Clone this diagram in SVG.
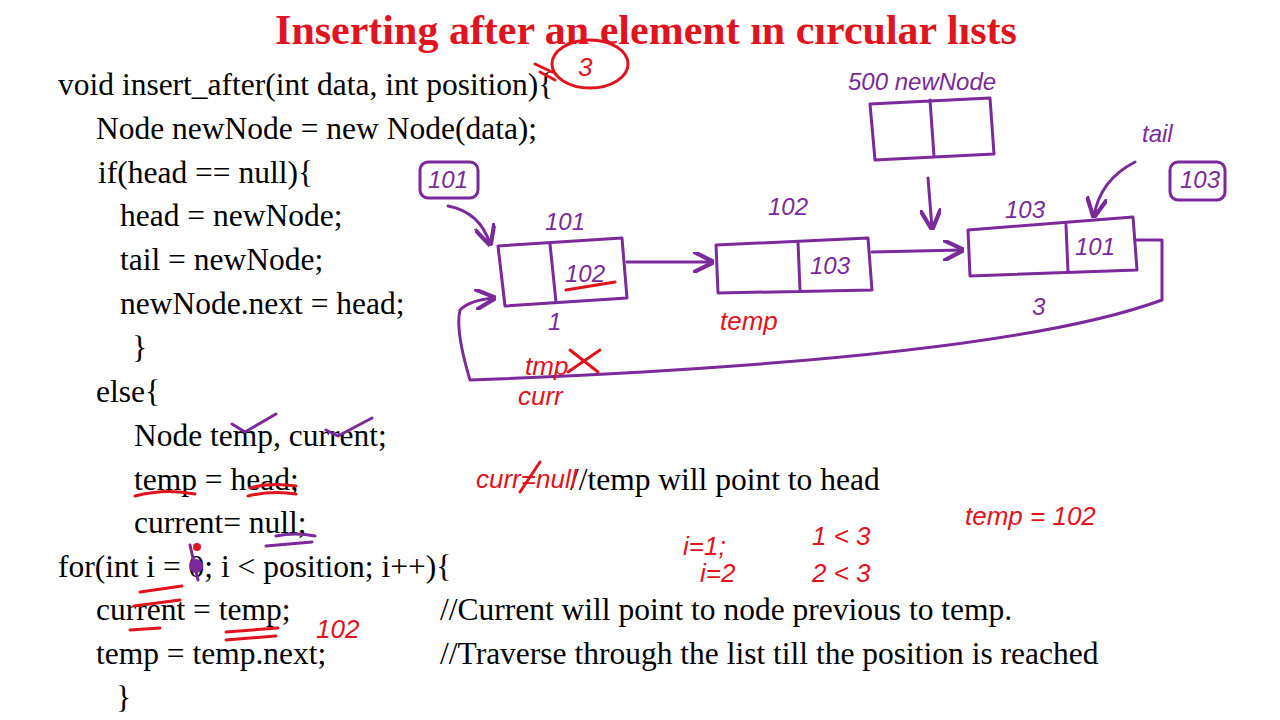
<svg xmlns="http://www.w3.org/2000/svg" width="1280" height="720" viewBox="0 0 1280 720">
<style>
.c{font-family:"Liberation Serif",serif;font-size:31.5px;fill:#000}
.p{stroke:#7a2a9a;stroke-width:3;fill:none;stroke-linecap:round;stroke-linejoin:round}
.r{stroke:#e0141e;stroke-width:3;fill:none;stroke-linecap:round;stroke-linejoin:round}
.pt{font-family:"Liberation Sans",sans-serif;font-size:24px;fill:#7a2a9a;font-style:italic}
.rt{font-family:"Liberation Sans",sans-serif;font-size:26px;fill:#e0141e;font-style:italic}
</style>
<defs><marker id="a" viewBox="0 0 10 10" refX="9" refY="5" markerWidth="7" markerHeight="7" orient="auto"><path d="M0,0 L10,5 L0,10" fill="none" stroke="#7a2a9a" stroke-width="2"/></marker></defs>
<rect width="1280" height="720" fill="#fff"/>
<text x="646" y="44" text-anchor="middle" font-family="Liberation Serif,serif" font-weight="bold" font-size="42" fill="#e0141e">Inserting after an element ın cırcular lısts</text>
<g id="code">
<text class="c" x="58" y="95">void insert_after(int data, int position){</text>
<text class="c" x="96" y="139">Node newNode = new Node(data);</text>
<text class="c" x="98" y="183">if(head == null){</text>
<text class="c" x="120" y="226">head = newNode;</text>
<text class="c" x="120" y="270">tail = newNode;</text>
<text class="c" x="120" y="314">newNode.next = head;</text>
<text class="c" x="132" y="358">}</text>
<text class="c" x="96" y="402">else{</text>
<text class="c" x="134" y="446">Node temp, current;</text>
<text class="c" x="134" y="490">temp = head;</text>
<text class="c" x="570" y="490">//temp will point to head</text>
<text class="c" x="134" y="533">current= null;</text>
<text class="c" x="58" y="577">for(int i = 0; i &lt; position; i++){</text>
<text class="c" x="96" y="620">current = temp;</text>
<text class="c" x="440" y="620">//Current will point to node previous to temp.</text>
<text class="c" x="96" y="664">temp = temp.next;</text>
<text class="c" x="440" y="664">//Traverse through the list till the position is reached</text>
<text class="c" x="116" y="708">}</text>
</g>
<g id="nodes">
<path class="p" d="M498,246 L622,238 L627,298 L505,306 Z M550,244 L556,302"/>
<path class="p" d="M716,245 L868,238 L872,290 L718,293 Z M798,242 L800,290"/>
<path class="p" d="M968,230 L1133,217 L1137,270 L970,276 Z M1066,225 L1068,272"/>
<path class="p" d="M870,104 L990,98 L994,154 L875,160 Z M930,100 L934,156"/>
<text class="pt" x="545" y="230">101</text>
<text class="pt" x="768" y="215">102</text>
<text class="pt" x="1005" y="218">103</text>
<text class="pt" x="565" y="282">102</text>
<text class="pt" x="810" y="274">103</text>
<text class="pt" x="1075" y="255">101</text>
<text class="pt" x="848" y="90" font-size="22">500 newNode</text>
<text class="pt" x="1142" y="142">tail</text>
<text class="pt" x="548" y="330" font-size="20">1</text>
<text class="pt" x="1032" y="315" font-size="20">3</text>
<rect class="p" x="420" y="162" width="58" height="36" rx="8"/><text class="pt" x="428" y="188" font-size="18">101</text>
<rect class="p" x="1170" y="162" width="55" height="38" rx="8"/><text class="pt" x="1180" y="188" font-size="18">103</text>
</g>
<g id="connectors">
<path class="p" d="M448,206 Q480,212 490,244" marker-end="url(#a)"/>
<path class="p" d="M627,262 L712,262" marker-end="url(#a)"/>
<path class="p" d="M872,252 L962,250" marker-end="url(#a)"/>
<path class="p" d="M928,178 L932,228" marker-end="url(#a)"/>
<path class="p" d="M1135,162 Q1100,180 1094,216" marker-end="url(#a)"/>
<path class="p" d="M1137,240 L1162,240 L1162,300 Q1000,360 470,380 Q455,330 460,310 Q470,300 494,298" marker-end="url(#a)"/>
</g>
<g id="annotations">
<text class="rt" x="720" y="330">temp</text>
<text class="rt" x="525" y="375">tmp</text>
<path class="r" d="M568,372 L600,350 M570,350 L598,372"/>
<text class="rt" x="518" y="405">curr</text>
<text class="rt" x="476" y="488">curr=null</text>
<path class="r" d="M520,492 L540,462"/>
<text class="rt" x="683" y="555">i=1;</text>
<text class="rt" x="812" y="545">1 &lt; 3</text>
<text class="rt" x="700" y="582">i=2</text>
<text class="rt" x="812" y="582">2 &lt; 3</text>
<text class="rt" x="965" y="525">temp = 102</text>
<text class="rt" x="316" y="638" font-size="18">102</text>
<ellipse class="r" cx="590" cy="64" rx="38" ry="24"/>
<text class="rt" x="578" y="76" font-size="30">3</text>
<path class="r" d="M552,72 L535,64 M555,80 L540,72"/>
<path class="r" d="M135,496 Q165,488 195,494 M248,496 Q272,490 296,494 M250,488 Q270,482 296,486 M140,592 L182,586 M134,606 L180,600 M130,630 L160,628 M226,632 L278,628 M226,640 L276,636 M566,290 L615,282"/>
<path class="p" d="M276,536 Q295,532 315,536 M266,546 L312,542 M232,424 L245,432 L276,414 M326,430 L338,436 L372,418 M190,545 L198,580"/>
<circle cx="196" cy="566" r="7" fill="#7a2a9a"/>
<circle cx="197" cy="547" r="4" fill="#e0141e"/>
</g>
</svg>
